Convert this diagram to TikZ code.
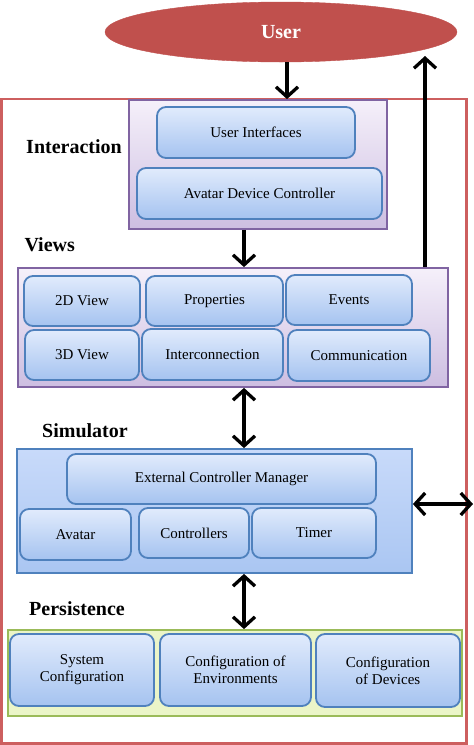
\documentclass[tikz,border=0pt]{standalone}
\usepackage{fontspec}
\setmainfont{Liberation Serif}
\usetikzlibrary{shapes.geometric,arrows.meta}
\definecolor{userred}{RGB}{192,80,77}
\definecolor{outerred}{RGB}{205,95,95}
\definecolor{purpb}{RGB}{128,100,162}
\definecolor{purptop}{RGB}{245,240,250}
\definecolor{purpbot}{RGB}{205,190,225}
\definecolor{blueb}{RGB}{79,129,189}
\definecolor{bluetop}{RGB}{225,235,252}
\definecolor{bluebot}{RGB}{165,195,240}
\definecolor{simtop}{RGB}{200,218,250}
\definecolor{simbot}{RGB}{170,198,242}
\definecolor{greenb}{RGB}{155,187,89}
\definecolor{greenf}{RGB}{235,245,200}
\tikzset{
  inner/.style={draw=blueb, line width=1.8pt, rounded corners=9pt, top color=bluetop, bottom color=bluebot, align=center, font=\fontsize{15}{17}\selectfont, inner sep=0pt},
  group/.style={draw=purpb, line width=1.8pt, top color=purptop, bottom color=purpbot, inner sep=0pt},
  lbl/.style={font=\fontsize{20}{23}\selectfont\bfseries},
  arr/.style={line width=3.3pt, -{Straight Barb[length=10pt,width=22pt,line width=3.3pt]}},
  darr/.style={line width=3.3pt, {Straight Barb[length=10pt,width=22pt,line width=3.3pt]}-{Straight Barb[length=10pt,width=22pt,line width=3.3pt]}}
}
\begin{document}
\begin{tikzpicture}[x=1pt,y=-1pt]
\useasboundingbox (0,0) rectangle (474,745);
\fill[white] (0,0) rectangle (474,745);
% outer red frame
\draw[outerred, line width=2.5pt] (1.5,99) rectangle (466.5,743.5);
% user
\node[ellipse, fill=userred, draw=userred, minimum width=352pt, minimum height=60pt, inner sep=0pt, text=white, font=\fontsize{20}{23}\selectfont\bfseries] (user) at (281,32) {User};
% interaction
\node[group, minimum width=258pt, minimum height=129pt] (inter) at (258,164.5) {};
\node[inner, minimum width=198pt, minimum height=51pt] (ui) at (256,132.5) {User Interfaces};
\node[inner, minimum width=245pt, minimum height=51pt] (adc) at (259.5,193.5) {Avatar Device Controller};
\node[lbl] (linter) at (74,147) {Interaction};
% views
\node[group, minimum width=430pt, minimum height=119pt] (views) at (233,327.5) {};
\node[inner, minimum width=116pt, minimum height=50pt] (v2d) at (82,301) {2D View};
\node[inner, minimum width=137pt, minimum height=50pt] (prop) at (214.5,301) {Properties};
\node[inner, minimum width=126pt, minimum height=50pt] (events) at (349,300) {Events};
\node[inner, minimum width=114pt, minimum height=50pt] (v3d) at (82,355) {3D View};
\node[inner, minimum width=141pt, minimum height=51pt] (interc) at (212.5,354.5) {Interconnection};
\node[inner, minimum width=142pt, minimum height=51pt] (comm) at (359,355.5) {Communication};
\node[lbl, anchor=west] (lviews) at (21,245) {Views};
% simulator
\node[draw=blueb, line width=1.8pt, top color=simtop, bottom color=simbot, minimum width=395pt, minimum height=124pt, inner sep=0pt] (sim) at (214.5,511) {};
\node[inner, minimum width=309pt, minimum height=50pt] (ecm) at (221.5,479) {External Controller Manager};
\node[inner, minimum width=111pt, minimum height=51pt] (avatar) at (75.5,534.5) {Avatar};
\node[inner, minimum width=110pt, minimum height=50pt] (ctrl) at (194,533) {Controllers};
\node[inner, minimum width=124pt, minimum height=50pt] (timer) at (314,533) {Timer};
\node[lbl] (lsim) at (85,431) {Simulator};
% persistence
\node[draw=greenb, line width=1.8pt, fill=greenf, minimum width=454pt, minimum height=86pt, inner sep=0pt] (pers) at (235,673) {};
\node[inner, minimum width=144pt, minimum height=72pt] (sysconf) at (82,670) {System\\Configuration};
\node[inner, minimum width=151pt, minimum height=72pt] (confenv) at (235.5,670) {Configuration of\\Environments};
\node[inner, minimum width=144pt, minimum height=73pt] (confdev) at (388,670.5) {Configuration\\of Devices};
\node[lbl] (lpers) at (77,609) {Persistence};
% connectors
\coordinate (upend) at (425,56);
\coordinate (rightend) at (473,504);
\draw[arr] ([xshift=6pt]user.south) -- ([xshift=29pt]inter.north);
\draw[arr] ([xshift=-14pt]inter.south) -- ([xshift=11pt]views.north);
\draw[arr] ([xshift=192pt]views.north) -- (upend);
\draw[darr] ([xshift=11pt]views.south) -- ([xshift=29.5pt]sim.north);
\draw[darr] ([xshift=29.5pt]sim.south) -- ([xshift=9pt]pers.north);
\draw[darr] ([yshift=7pt]sim.east) -- (rightend);
\end{tikzpicture}
\end{document}
